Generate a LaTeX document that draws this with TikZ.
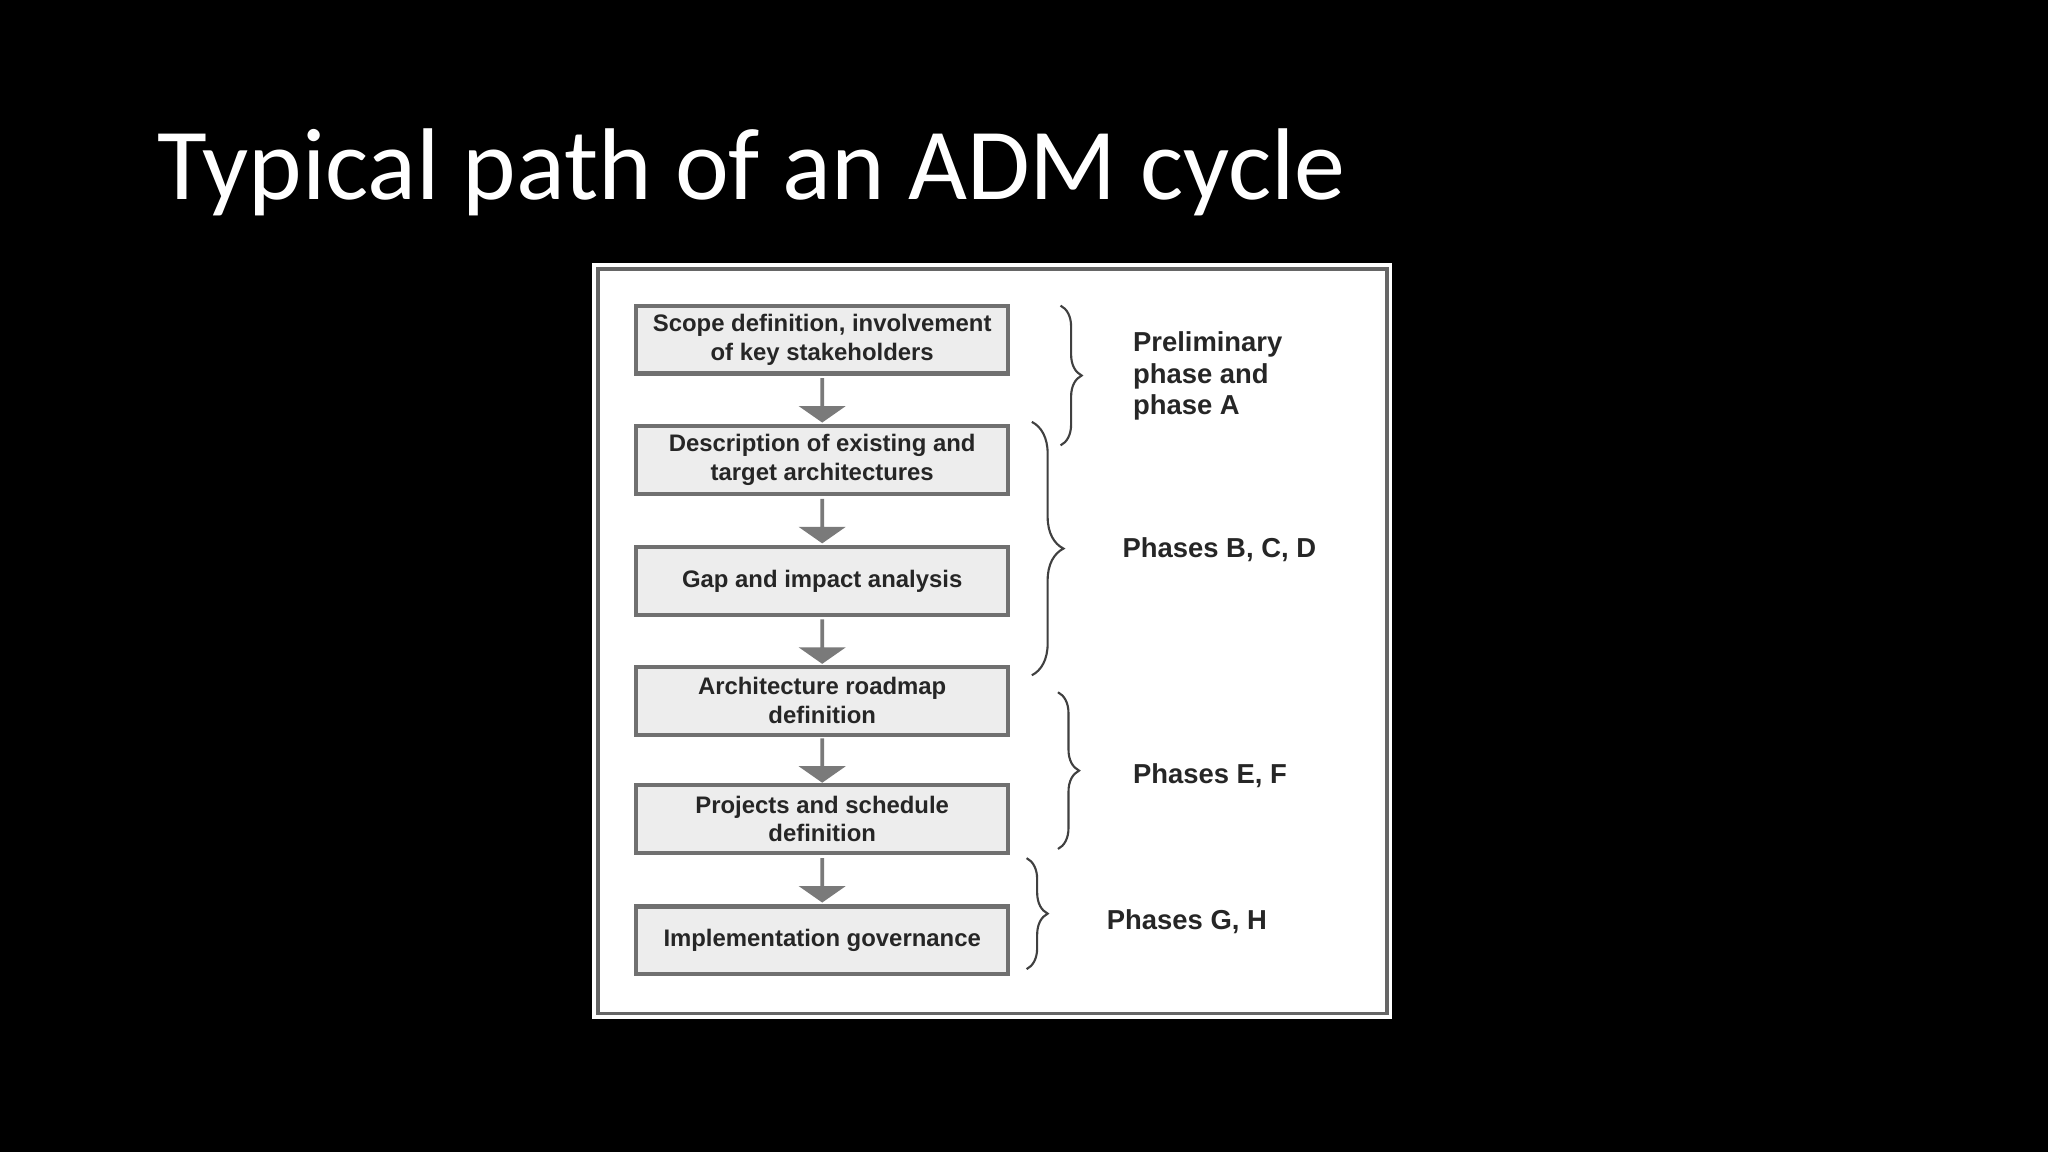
\documentclass[tikz,border=0pt]{standalone}
\usepackage{fontspec}
\setmainfont{Liberation Sans}
\newfontfamily\titlefont{Carlito}
\usetikzlibrary{decorations.pathreplacing,shapes.arrows,calc}
\definecolor{boxfill}{HTML}{EDEDED}
\definecolor{boxline}{HTML}{707070}
\definecolor{arrowgrey}{HTML}{7A7A7A}
\begin{document}
\begin{tikzpicture}[x=0.013061cm,y=-0.013061cm,
  stepbox/.style={draw=boxline,line width=1.2pt,fill=boxfill,minimum width=285*0.013061cm,minimum height=52*0.013061cm,align=center,font=\fontsize{6.8}{8.2}\selectfont\bfseries,text=black!85,inner sep=0pt},
  downarrow/.style={fill=arrowgrey,draw=none,single arrow,shape border rotate=270,minimum height=34*0.013061cm,minimum width=36*0.013061cm,single arrow head extend=0.08cm,single arrow tip angle=110,inner sep=0pt},
  phasebrace/.style={decorate,decoration={brace,amplitude=6pt},draw=black!75,line width=0.6pt},
  phase/.style={anchor=west,align=left,font=\fontsize{7.8}{9}\selectfont\bfseries,text=black!85}]
\useasboundingbox (0,0) rectangle (1568,882);
\fill[black] (0,0) rectangle (1568,882);
\node[anchor=base west,font=\titlefont\fontsize{29}{34}\selectfont,text=white,inner sep=0pt] (title) at (120,153) {Typical path of an ADM cycle};
\fill[white] (453,201) rectangle (1066,780);
\draw[black!60,line width=1pt] (458,206) rectangle (1062,776);
\node[stepbox] (b1) at (629.5,260) {Scope definition, involvement\\of key stakeholders};
\node[stepbox] (b2) at (629.5,352) {Description of existing and\\target architectures};
\node[stepbox] (b3) at (629.5,445) {Gap and impact analysis};
\node[stepbox] (b4) at (629.5,536.5) {Architecture roadmap\\definition};
\node[stepbox] (b5) at (629.5,627) {Projects and schedule\\definition};
\node[stepbox] (b6) at (629.5,720) {Implementation governance};
\foreach \a/\b in {b1/b2,b2/b3,b3/b4,b4/b5,b5/b6}
  \node[downarrow] (arr\a) at ($(\a.south)!0.5!(\b.north)$) {};
\coordinate (p1t) at (812,234); \coordinate (p1b) at (812,341);
\coordinate (p2t) at (790,323); \coordinate (p2b) at (790,517);
\coordinate (p3t) at (810,530); \coordinate (p3b) at (810,650);
\coordinate (p4t) at (786,657); \coordinate (p4b) at (786,742);
\draw[phasebrace] (p1t) -- (p1b);
\draw[phasebrace,decoration={brace,amplitude=9pt}] (p2t) -- (p2b);
\draw[phasebrace] (p3t) -- (p3b);
\draw[phasebrace] (p4t) -- (p4b);
\node[phase] (l1) at (858,288) {Preliminary\\phase and\\phase A};
\node[phase] (l2) at (850,421) {Phases B, C, D};
\node[phase] (l3) at (858,594) {Phases E, F};
\node[phase] (l4) at (838,706) {Phases G, H};
\end{tikzpicture}
\end{document}
